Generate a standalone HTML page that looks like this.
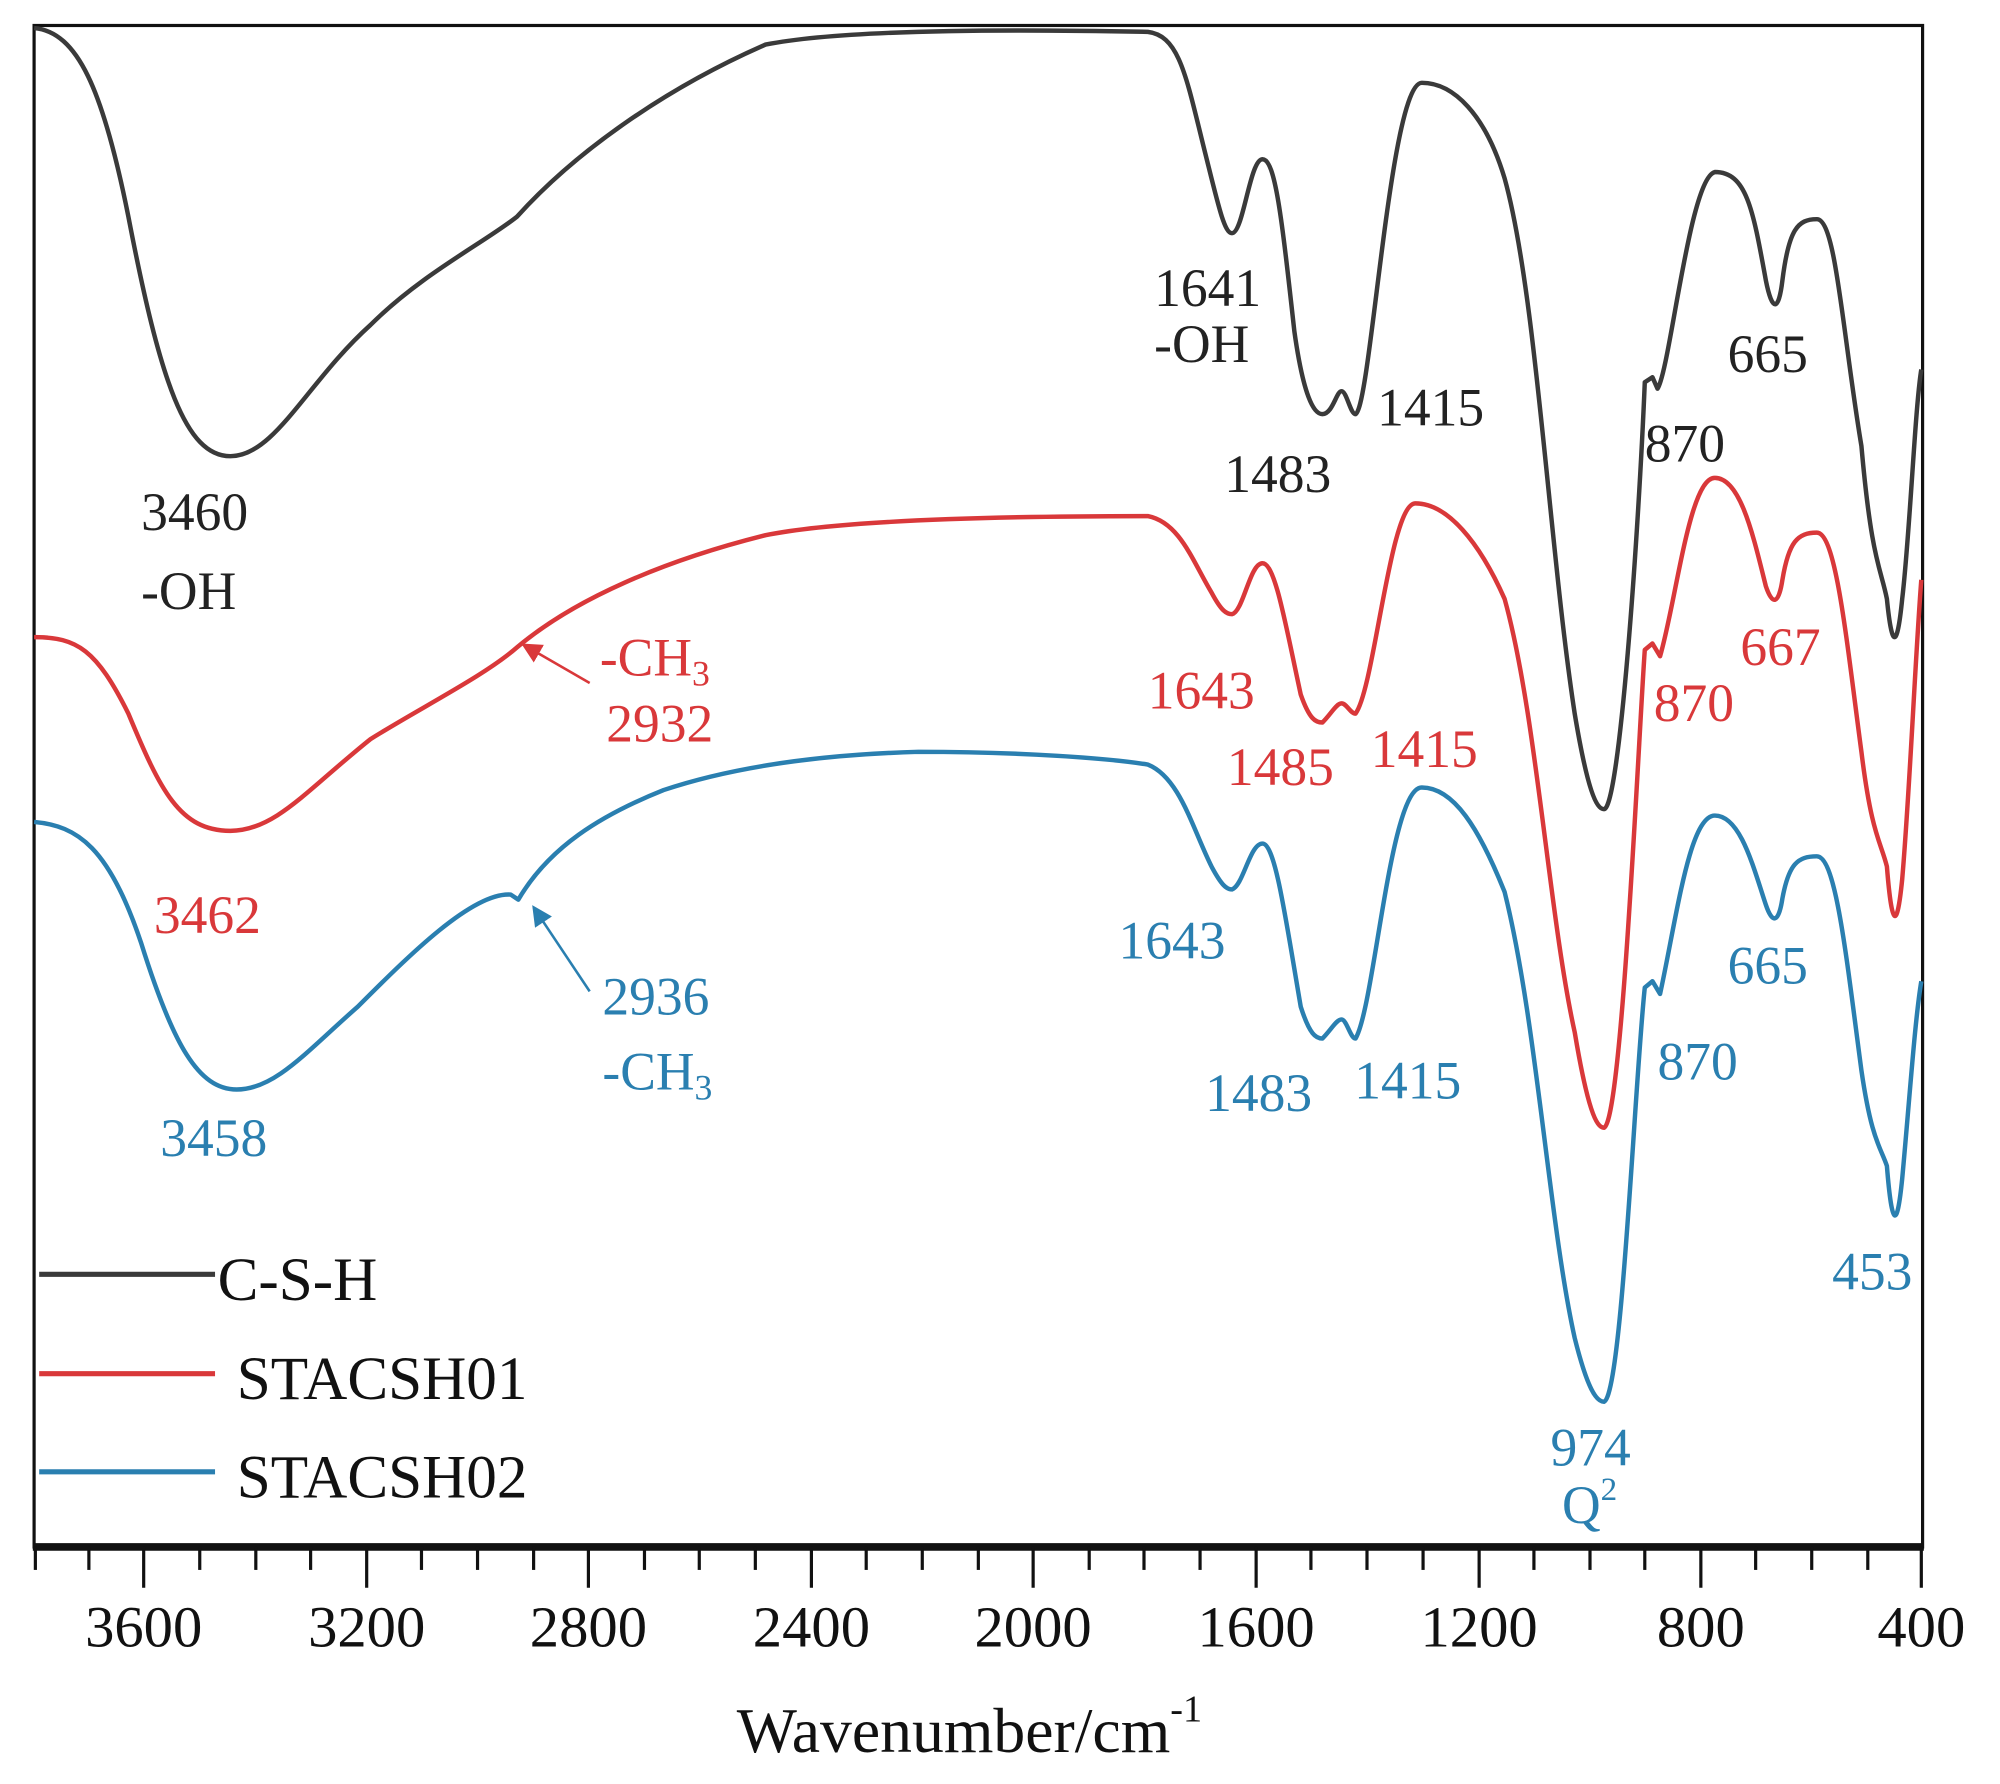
<!DOCTYPE html>
<html><head><meta charset="utf-8"><style>
html,body{margin:0;padding:0;background:#fff;}
svg{display:block;}
text{font-family:"Liberation Serif",serif;}
</style></head><body>
<svg width="2000" height="1784" viewBox="0 0 1568 1400" xmlns="http://www.w3.org/2000/svg">
<defs>
<marker id="ar" markerWidth="8" markerHeight="8" refX="7" refY="4" orient="auto"><path d="M0,0 L8,4 L0,8 z" fill="#d9383a"/></marker>
<marker id="ab" markerWidth="8" markerHeight="8" refX="7" refY="4" orient="auto"><path d="M0,0 L8,4 L0,8 z" fill="#2a7fb0"/></marker>
</defs>
<!-- frame -->
<rect x="26" y="20" width="1482" height="1194" fill="none" stroke="#111" stroke-width="2.5"/>
<line x1="25" y1="1214" x2="1509" y2="1214" stroke="#111" stroke-width="6"/>
<g stroke="#111" stroke-width="2.5">
<line x1="112" y1="1214" x2="112" y2="1246"/><line x1="287" y1="1214" x2="287" y2="1246"/>
<line x1="461" y1="1214" x2="461" y2="1246"/><line x1="636" y1="1214" x2="636" y2="1246"/>
<line x1="810" y1="1214" x2="810" y2="1246"/><line x1="985" y1="1214" x2="985" y2="1246"/>
<line x1="1160" y1="1214" x2="1160" y2="1246"/><line x1="1334" y1="1214" x2="1334" y2="1246"/>
<line x1="1507" y1="1214" x2="1507" y2="1246"/>
<line x1="27" y1="1214" x2="27" y2="1232"/><line x1="69" y1="1214" x2="69" y2="1232"/>
<line x1="156" y1="1214" x2="156" y2="1232"/><line x1="200" y1="1214" x2="200" y2="1232"/><line x1="243" y1="1214" x2="243" y2="1232"/>
<line x1="330" y1="1214" x2="330" y2="1232"/><line x1="374" y1="1214" x2="374" y2="1232"/><line x1="418" y1="1214" x2="418" y2="1232"/>
<line x1="505" y1="1214" x2="505" y2="1232"/><line x1="548" y1="1214" x2="548" y2="1232"/><line x1="592" y1="1214" x2="592" y2="1232"/>
<line x1="679" y1="1214" x2="679" y2="1232"/><line x1="723" y1="1214" x2="723" y2="1232"/><line x1="767" y1="1214" x2="767" y2="1232"/>
<line x1="854" y1="1214" x2="854" y2="1232"/><line x1="897" y1="1214" x2="897" y2="1232"/><line x1="941" y1="1214" x2="941" y2="1232"/>
<line x1="1028" y1="1214" x2="1028" y2="1232"/><line x1="1072" y1="1214" x2="1072" y2="1232"/><line x1="1116" y1="1214" x2="1116" y2="1232"/>
<line x1="1203" y1="1214" x2="1203" y2="1232"/><line x1="1247" y1="1214" x2="1247" y2="1232"/><line x1="1290" y1="1214" x2="1290" y2="1232"/>
<line x1="1377" y1="1214" x2="1377" y2="1232"/><line x1="1421" y1="1214" x2="1421" y2="1232"/><line x1="1465" y1="1214" x2="1465" y2="1232"/>
</g>
<g font-size="46" fill="#111" text-anchor="middle">
<text x="112" y="1292">3600</text><text x="287" y="1292">3200</text><text x="461" y="1292">2800</text>
<text x="636" y="1292">2400</text><text x="810" y="1292">2000</text><text x="985" y="1292">1600</text>
<text x="1160" y="1292">1200</text><text x="1334" y="1292">800</text><text x="1507" y="1292">400</text>
<text x="760" y="1375" font-size="50">Wavenumber/cm<tspan font-size="30" dy="-24">-1</tspan></text>
</g>
<!-- curves -->
<g fill="none" stroke-width="3.5" stroke-linejoin="round">
<path stroke="#3a3a3a" d="M26,22 C60,25 80,70 100,170 C125,300 145,358 180,358 C215,358 240,300 290,255 C330,215 380,190 405,170 C450,120 520,70 600,35 C650,25 750,22 900,25 C925,28 930,60 945,120 C955,160 960,183 966,183 C975,183 980,125 990,125 C1000,125 1005,170 1015,260 C1022,310 1030,325 1037,325 C1045,325 1048,307 1052,307 C1056,307 1059,325 1063,325 C1075,320 1090,65 1115,65 C1140,65 1165,90 1180,140 C1205,230 1215,430 1235,560 C1245,620 1252,635 1258,635 C1270,635 1285,420 1290,300 L1296,296 L1300,305 C1310,290 1325,140 1345,135 C1370,135 1375,165 1385,220 C1390,245 1395,245 1398,220 C1403,180 1410,172 1425,172 C1440,172 1445,260 1460,350 C1468,440 1475,445 1480,470 C1484,510 1488,510 1492,470 C1498,420 1502,320 1507,290"/>
<path stroke="#d9383a" d="M26,500 C60,500 75,510 100,560 C125,620 140,652 180,652 C215,652 240,620 290,580 C330,555 380,530 405,508 C450,470 520,440 600,420 C650,410 750,405 900,405 C925,410 935,440 950,465 C958,480 962,482 966,482 C975,480 980,442 990,442 C1000,442 1008,490 1020,545 C1027,565 1032,567 1037,567 C1044,560 1048,552 1052,552 C1056,552 1059,560 1063,560 C1078,540 1090,395 1110,395 C1135,395 1160,425 1180,470 C1205,560 1215,720 1235,810 C1245,870 1252,885 1258,885 C1272,880 1285,580 1290,510 L1296,505 L1302,515 C1315,470 1325,375 1345,375 C1365,375 1375,420 1385,460 C1390,475 1395,475 1398,455 C1403,425 1410,418 1425,418 C1440,418 1448,500 1460,590 C1468,655 1475,660 1480,680 C1484,730 1488,730 1492,690 C1498,620 1502,520 1507,455"/>
<path stroke="#2a7fb0" d="M26,645 C60,648 85,665 110,740 C135,820 155,855 185,855 C215,855 240,825 280,790 C320,750 370,700 400,702 L406,706 C430,665 470,640 520,620 C580,600 650,592 720,590 C800,590 870,595 900,600 C925,610 935,650 950,680 C958,695 962,698 966,698 C975,695 980,662 990,662 C1000,662 1008,720 1020,790 C1027,812 1032,815 1037,815 C1044,808 1048,800 1052,800 C1056,800 1059,815 1063,815 C1078,790 1090,618 1115,618 C1140,618 1160,650 1180,700 C1205,800 1215,960 1235,1050 C1245,1090 1252,1100 1258,1100 C1272,1095 1282,850 1290,775 L1296,770 L1302,780 C1315,720 1325,640 1345,640 C1365,640 1375,680 1385,710 C1390,725 1395,725 1398,705 C1403,678 1410,672 1425,672 C1440,672 1448,750 1460,840 C1468,895 1475,900 1480,915 C1484,965 1488,965 1492,925 C1498,860 1502,800 1507,770"/>
</g>
<!-- legend -->
<g stroke-width="4">
<line x1="30" y1="1000" x2="168" y2="1000" stroke="#3a3a3a"/>
<line x1="30" y1="1078" x2="168" y2="1078" stroke="#d9383a"/>
<line x1="30" y1="1155" x2="168" y2="1155" stroke="#2a7fb0"/>
</g>
<g font-size="48" fill="#111">
<text x="170" y="1020">C-S-H</text>
<text x="185" y="1098">STACSH01</text>
<text x="185" y="1175">STACSH02</text>
</g>
<!-- annotations -->
<g font-size="42" fill="#222">
<text x="110" y="416">3460</text><text x="110" y="478">-OH</text>
<text x="905" y="240">1641</text><text x="905" y="284">-OH</text>
<text x="960" y="386">1483</text><text x="1080" y="334">1415</text>
<text x="1290" y="362">870</text><text x="1355" y="292">665</text>
</g>
<g font-size="42" fill="#d9383a">
<text x="470" y="530">-CH<tspan font-size="28" dy="8">3</tspan></text>
<text x="475" y="582">2932</text>
<text x="120" y="732">3462</text>
<text x="900" y="556">1643</text><text x="962" y="616">1485</text><text x="1075" y="602">1415</text>
<text x="1297" y="566">870</text><text x="1365" y="522">667</text>
</g>
<line x1="462" y1="536" x2="410" y2="506" stroke="#d9383a" stroke-width="2" marker-end="url(#ar)"/>
<g font-size="42" fill="#2a7fb0">
<text x="472" y="796">2936</text>
<text x="472" y="855">-CH<tspan font-size="28" dy="8">3</tspan></text>
<text x="125" y="907">3458</text>
<text x="877" y="752">1643</text><text x="945" y="872">1483</text><text x="1062" y="862">1415</text>
<text x="1300" y="847">870</text><text x="1355" y="772">665</text>
<text x="1437" y="1012">453</text>
<text x="1216" y="1150">974</text><text x="1225" y="1195">Q<tspan font-size="26" dy="-18">2</tspan></text>
</g>
<line x1="462" y1="778" x2="418" y2="712" stroke="#2a7fb0" stroke-width="2" marker-end="url(#ab)"/>
</svg>
</body></html>
